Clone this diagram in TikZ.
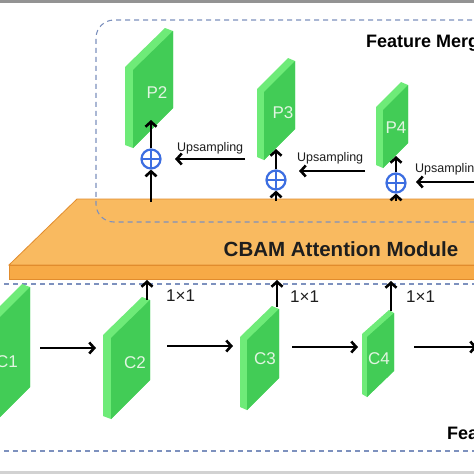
\documentclass[tikz,border=0pt]{standalone}
\usepackage{fontspec}
\setmainfont{Liberation Sans}
\usetikzlibrary{arrows.meta}
\definecolor{gLight}{RGB}{110,235,120}
\definecolor{gDark}{RGB}{66,204,86}
\definecolor{oTop}{RGB}{249,186,96}
\definecolor{oFront}{RGB}{247,170,70}
\definecolor{oEdge}{RGB}{225,140,45}
\definecolor{dashC}{RGB}{125,145,190}
\definecolor{plusC}{RGB}{60,110,225}
\definecolor{labC}{RGB}{225,245,225}
\definecolor{txtC}{RGB}{30,30,30}
% #1 x0, #2 x1, #3 s, #4 a (top-left y), #5 b (bottom-left y), #6 c (top-right y), #7 e (bottom-right y)
\newcommand\myslab[7]{%
  \fill[gLight] (#1,{#5-3}) -- (#1,#4) -- ({#2-#3},#6) -- (#2,{#6+3}) -- (#2,#7) -- ({#1+#3},#5) -- cycle;
  \fill[gDark] ({#1+#3},#5) -- ({#1+#3},{#4+3}) -- (#2,{#6+3}) -- (#2,#7) -- cycle;
}
\begin{document}
\begin{tikzpicture}[x=1pt,y=-1pt,
  arr/.style={line width=2.6pt,-{Straight Barb[length=5pt,width=11pt]}},
  dashline/.style={draw=dashC,line width=1.1pt,dash pattern=on 5pt off 4pt},
  slablabel/.style={text=labC,font=\fontsize{17}{17}\selectfont,inner sep=0pt},
  sizelabel/.style={text=txtC,font=\fontsize{17}{17}\selectfont,inner sep=0pt,anchor=west},
  uplabel/.style={text=txtC,font=\fontsize{12.5}{13}\selectfont,inner sep=0pt,anchor=base west},
  boxtitle/.style={text=black,font=\fontsize{18}{18}\selectfont\bfseries,inner sep=0pt,anchor=west},
  oplus/.style={circle,draw=plusC,line width=2.2pt,fill=white,minimum size=19pt,inner sep=0pt,
    path picture={\draw[plusC,line width=1.8pt] (path picture bounding box.north) -- (path picture bounding box.south)
      (path picture bounding box.west) -- (path picture bounding box.east);}}]
\useasboundingbox (0,0) rectangle (474,474);
\clip (0,0) rectangle (474,474);
\fill[white] (0,0) rectangle (474,474);

% lower (feature extraction) dashed box
\draw[dashline] (-5,284) -- (480,284);
\draw[dashline] (-5,451) -- (480,451);
\node[boxtitle] (fe) at (447,433) {Feature Extraction};

% backbone slabs
\myslab{-18}{30}{8}{324}{427}{284}{387}
\node[slablabel] (c1) at (7,362) {C1};
\myslab{103}{150}{8}{335}{419}{297}{380}
\node[slablabel] (c2) at (135,363) {C2};
\myslab{240}{279}{7}{337}{410}{306}{378}
\node[slablabel] (c3) at (265,359) {C3};
\myslab{362}{394}{5}{334}{397}{310}{371}
\node[slablabel] (c4) at (379,359) {C4};

% horizontal arrows
\coordinate (h1a) at (40,348);  \coordinate (h1b) at (96,348);
\coordinate (h2a) at (167,346); \coordinate (h2b) at (233,346);
\coordinate (h3a) at (292,347); \coordinate (h3b) at (358,347);
\coordinate (h4a) at (414,347); \coordinate (h4b) at (477,347);
\draw[arr] (h1a) -- (h1b);
\draw[arr] (h2a) -- (h2b);
\draw[arr] (h3a) -- (h3b);
\draw[arr] (h4a) -- (h4b);

% orange CBAM slab
\fill[oTop,draw=oEdge,line width=0.8pt] (9,265) -- (77,199) -- (480,199) -- (480,265) -- cycle;
\fill[oFront,draw=oEdge,line width=0.8pt] (9,265) -- (480,265) -- (480,279) -- (9,279) -- cycle;
\node[text=txtC,font=\fontsize{20.5}{21}\selectfont\bfseries,inner sep=0pt] (cbam) at (341,249) {CBAM Attention Module};

% 1x1 arrows
\coordinate (t2a) at (147,300); \coordinate (t2b) at (147,280);
\coordinate (t3a) at (277,307); \coordinate (t3b) at (277,280);
\coordinate (t4a) at (391,311); \coordinate (t4b) at (391,281);
\draw[arr] (t2a) -- (t2b);
\draw[arr] (t3a) -- (t3b);
\draw[arr] (t4a) -- (t4b);
\node[sizelabel] (k2) at (166,296) {1×1};
\node[sizelabel] (k3) at (290,297) {1×1};
\node[sizelabel] (k4) at (406,297) {1×1};

% feature merging dashed box
\draw[dashline,rounded corners=18pt] (490,20) -- (96,20) -- (96,222) -- (490,222);
\node[boxtitle] (fm) at (366,43) {Feature Merging};

% pyramid slabs
\myslab{125}{173}{8}{67}{148}{28}{108}
\node[slablabel] (p2) at (157,93) {P2};
\myslab{257}{295}{7}{89}{160}{58}{129}
\node[slablabel] (p3) at (283,113) {P3};
\myslab{376}{408}{7}{107}{168}{82}{143}
\node[slablabel] (p4) at (396,128) {P4};

% sum nodes
\node[oplus] (s2) at (151,159) {};
\node[oplus] (s3) at (276,180) {};
\node[oplus] (s4) at (396,183) {};

\coordinate (o2) at (151,202); \coordinate (o3) at (276,201); \coordinate (o4) at (396,201);
\draw[arr] (o2) -- (s2);
\draw[arr] (o3) -- (s3);
\draw[arr] (o4) -- (s4);
\coordinate (i2) at (151,120); \coordinate (i3) at (276,149); \coordinate (i4) at (396,156);
\draw[arr] (s2) -- (i2);
\draw[arr] (s3) -- (i3);
\draw[arr] (s4) -- (i4);

% upsampling arrows
\coordinate (u2a) at (245,159); \coordinate (u2b) at (175,159);
\coordinate (u3a) at (365,171); \coordinate (u3b) at (299,171);
\coordinate (u4a) at (480,182); \coordinate (u4b) at (416,182);
\draw[arr] (u2a) -- (u2b);
\draw[arr] (u3a) -- (u3b);
\draw[arr] (u4a) -- (u4b);
\node[uplabel] (l2) at (177,151) {Upsampling};
\node[uplabel] (l3) at (297,161) {Upsampling};
\node[uplabel] (l4) at (415,172) {Upsampling};

% grey frame bands
\fill[gray!85] (0,0) rectangle (474,3);
\fill[gray!35] (0,471) rectangle (474,474);
\end{tikzpicture}
\end{document}
